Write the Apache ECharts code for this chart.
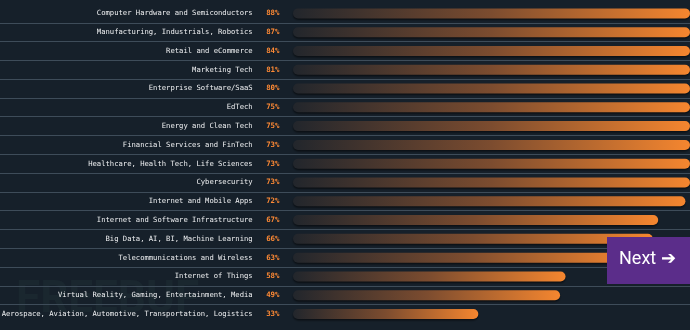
<!DOCTYPE html>
<html>
<head>
<meta charset="utf-8">
<script src="https://cdn.jsdelivr.net/npm/echarts@6/dist/echarts.min.js"></script>
<style>
html,body{margin:0;padding:0;background:#16202a;}
#c{width:690px;height:330px;}
</style>
</head>
<body>
<div id="c"></div>
<script>
const categories = [
  'Computer Hardware and Semiconductors',
  'Manufacturing, Industrials, Robotics',
  'Retail and eCommerce',
  'Marketing Tech',
  'Enterprise Software/SaaS',
  'EdTech',
  'Energy and Clean Tech',
  'Financial Services and FinTech',
  'Healthcare, Health Tech, Life Sciences',
  'Cybersecurity',
  'Internet and Mobile Apps',
  'Internet and Software Infrastructure',
  'Big Data, AI, BI, Machine Learning',
  'Telecommunications and Wireless',
  'Internet of Things',
  'Virtual Reality, Gaming, Entertainment, Media',
  'Aerospace, Aviation, Automotive, Transportation, Logistics'
];
// percentages printed next to each category
const pctLabels = [88, 87, 84, 81, 80, 75, 75, 73, 73, 73, 72, 67, 66, 63, 58, 49, 33];
// bar lengths as drawn in the picture (same units)
const barValues = [88, 87, 84, 81, 80, 75, 75, 73, 73, 73, 72, 67, 66, 63, 50, 49, 34];

const chart = echarts.init(document.getElementById('c'), null, {renderer: 'canvas'});
chart.setOption({
  backgroundColor: '#16202a',
  animation: false,
  grid: {left: 0, right: 0, top: 4, bottom: 6.6, outerBoundsMode: 'none', containLabel: false},
  xAxis: {
    type: 'value', min: -53.76, max: 72.84, show: false
  },
  yAxis: {
    type: 'category', data: categories, inverse: true, position: 'left', offset: -293,
    axisLine: {show: false, onZero: false},
    axisTick: {show: false},
    splitLine: {show: true, showMinLine: false, showMaxLine: false, lineStyle: {color: '#3e4c59', width: 1}},
    axisLabel: {
      show: true, interval: 0, hideOverlap: false,
      margin: 13.5,
      formatter: function (v, i) { return '{n|' + v + '}{p|' + pctLabels[i] + '%}'; },
      rich: {
        n: {fontFamily: 'DejaVu Sans Mono', fontSize: 7.2, color: '#f0f1f3'},
        p: {fontFamily: 'DejaVu Sans Mono', fontSize: 7.4, fontWeight: 'bold', color: '#ff8a35', padding: [0, 0, 0, 13.5]}
      }
    }
  },
  series: [{
    type: 'bar', data: barValues, barWidth: 10, clip: true,
    itemStyle: {
      borderRadius: 5,
      shadowColor: 'rgba(0,0,0,0.55)', shadowBlur: 2, shadowOffsetY: 1.5,
      color: new echarts.graphic.LinearGradient(0, 0, 1, 0, [
        {offset: 0, color: '#22262c'},
        {offset: 0.5, color: '#7c4c2f'},
        {offset: 1, color: '#f5862f'}
      ])
    }
  }],
  graphic: [
    {type: 'text', left: 16, top: 279, z: 0, silent: true,
     style: {text: 'FREEBUF', font: 'bold 44px Roboto', fill: 'rgba(110,150,130,0.06)'}},
    {type: 'rect', left: 607, top: 237, z: 100, shape: {width: 83, height: 47},
     style: {fill: '#5b2d8a'}},
    {type: 'text', left: 619, top: 250, z: 101,
     style: {text: 'Next \u2794', font: '18px Roboto', fill: '#ffffff'}}
  ]
});
</script>
</body>
</html>
